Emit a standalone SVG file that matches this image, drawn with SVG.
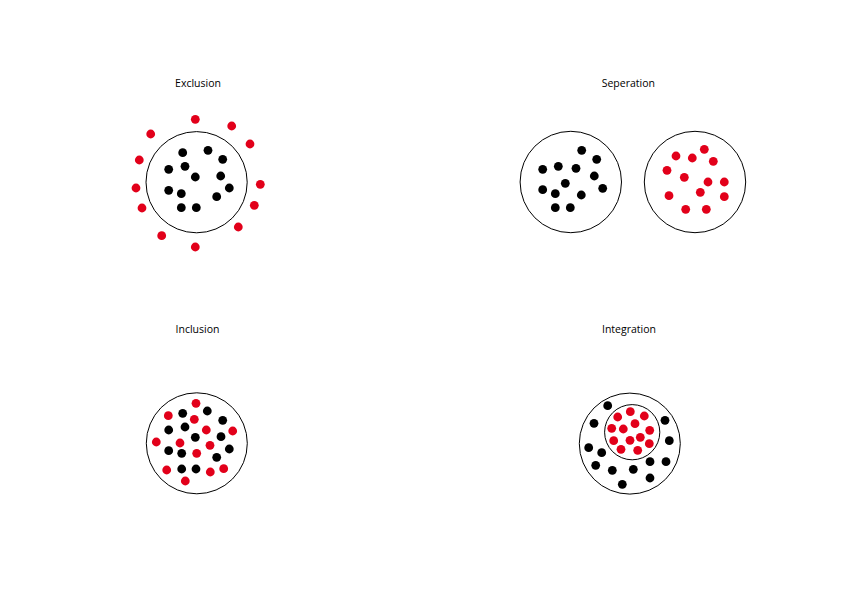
<svg xmlns="http://www.w3.org/2000/svg" width="842" height="596" viewBox="0 0 842 596">
<style>
.t{font-family:"Open Sans","Liberation Sans",sans-serif;font-size:10.5px;fill:#000;text-anchor:middle}
.c{fill:none;stroke:#000;stroke-width:1}
.r{fill:#e2001a}
.b{fill:#000}
</style>
<rect width="842" height="596" fill="#fff"/>
<g id="exclusion">
<text class="t" x="198" y="87">Exclusion</text>
<circle class="c" cx="196.6" cy="182.2" r="50.6"/>
<g class="r">
<circle cx="195.3" cy="119.3" r="4.4"/><circle cx="231.7" cy="126" r="4.4"/><circle cx="150.7" cy="134" r="4.4"/><circle cx="250" cy="144" r="4.4"/><circle cx="139.3" cy="160" r="4.4"/><circle cx="136" cy="188" r="4.4"/><circle cx="260.3" cy="184.3" r="4.4"/><circle cx="142" cy="208" r="4.4"/><circle cx="254.3" cy="205.3" r="4.4"/><circle cx="238.3" cy="227" r="4.4"/><circle cx="161.7" cy="235.7" r="4.4"/><circle cx="195.3" cy="247" r="4.4"/>
</g>
<g class="b">
<circle cx="182.7" cy="152.7" r="4.4"/><circle cx="208" cy="150.3" r="4.4"/><circle cx="222.7" cy="159.3" r="4.4"/><circle cx="168.7" cy="169.3" r="4.4"/><circle cx="185" cy="166.3" r="4.4"/><circle cx="195.3" cy="177" r="4.4"/><circle cx="220.7" cy="176" r="4.4"/><circle cx="229.3" cy="188" r="4.4"/><circle cx="168.7" cy="190.3" r="4.4"/><circle cx="181.3" cy="193.7" r="4.4"/><circle cx="216.7" cy="196.7" r="4.4"/><circle cx="181.3" cy="207.7" r="4.4"/><circle cx="196.3" cy="207.7" r="4.4"/>
</g>
</g>
<g id="separation">
<text class="t" x="628.3" y="87">Seperation</text>
<circle class="c" cx="570.8" cy="182" r="50.7"/>
<circle class="c" cx="695" cy="182" r="50.7"/>
<g class="b">
<circle cx="581.7" cy="150.3" r="4.4"/><circle cx="596.7" cy="159.3" r="4.4"/><circle cx="542.7" cy="169.3" r="4.4"/><circle cx="558.3" cy="166.3" r="4.4"/><circle cx="576" cy="168.3" r="4.4"/><circle cx="594.3" cy="176" r="4.4"/><circle cx="565.3" cy="183.3" r="4.4"/><circle cx="602.7" cy="188.3" r="4.4"/><circle cx="542.7" cy="189.7" r="4.4"/><circle cx="555.3" cy="193.7" r="4.4"/><circle cx="581.3" cy="195" r="4.4"/><circle cx="555.3" cy="207.7" r="4.4"/><circle cx="570.3" cy="207.7" r="4.4"/>
</g>
<g class="r">
<circle cx="704.3" cy="149.3" r="4.4"/><circle cx="676" cy="156" r="4.4"/><circle cx="692.3" cy="158" r="4.4"/><circle cx="713.3" cy="161.3" r="4.4"/><circle cx="667" cy="170.3" r="4.4"/><circle cx="684.3" cy="177.3" r="4.4"/><circle cx="708" cy="182" r="4.4"/><circle cx="724.3" cy="182" r="4.4"/><circle cx="700.3" cy="192.3" r="4.4"/><circle cx="669" cy="195.7" r="4.4"/><circle cx="724.3" cy="196.7" r="4.4"/><circle cx="685.7" cy="209.3" r="4.4"/><circle cx="706.3" cy="209.3" r="4.4"/>
</g>
</g>
<g id="inclusion">
<text class="t" x="197.5" y="333">Inclusion</text>
<circle class="c" cx="196.8" cy="443.3" r="50.5"/>
<g class="r">
<circle cx="196" cy="403.3" r="4.4"/><circle cx="168.3" cy="415.7" r="4.4"/><circle cx="194.3" cy="419.3" r="4.4"/><circle cx="206.3" cy="430" r="4.4"/><circle cx="232.7" cy="431" r="4.4"/><circle cx="156.3" cy="442" r="4.4"/><circle cx="180" cy="443" r="4.4"/><circle cx="210" cy="445.3" r="4.4"/><circle cx="196.7" cy="453.3" r="4.4"/><circle cx="166.7" cy="470" r="4.4"/><circle cx="210.3" cy="472" r="4.4"/><circle cx="223.7" cy="468.7" r="4.4"/><circle cx="185.3" cy="481" r="4.4"/>
</g>
<g class="b">
<circle cx="182.7" cy="413.3" r="4.4"/><circle cx="207.3" cy="411" r="4.4"/><circle cx="222.7" cy="420.3" r="4.4"/><circle cx="185" cy="427" r="4.4"/><circle cx="168.7" cy="430" r="4.4"/><circle cx="221" cy="436.7" r="4.4"/><circle cx="195.3" cy="437.3" r="4.4"/><circle cx="229.3" cy="449" r="4.4"/><circle cx="168.7" cy="450.7" r="4.4"/><circle cx="181.7" cy="453.3" r="4.4"/><circle cx="216.7" cy="457.3" r="4.4"/><circle cx="181.7" cy="469" r="4.4"/><circle cx="196" cy="469" r="4.4"/>
</g>
</g>
<g id="integration">
<text class="t" x="629" y="333">Integration</text>
<circle class="c" cx="629.8" cy="443.6" r="50.5"/>
<circle class="c" cx="632.2" cy="432.2" r="27.6"/>
<g class="b">
<circle cx="607.7" cy="405.7" r="4.4"/><circle cx="594" cy="423.3" r="4.4"/><circle cx="665" cy="420.3" r="4.4"/><circle cx="669.3" cy="440.7" r="4.4"/><circle cx="588.7" cy="447.7" r="4.4"/><circle cx="601.7" cy="452.7" r="4.4"/><circle cx="650" cy="461.7" r="4.4"/><circle cx="666" cy="461.7" r="4.4"/><circle cx="595.7" cy="465.3" r="4.4"/><circle cx="612.3" cy="470.3" r="4.4"/><circle cx="633.3" cy="469.3" r="4.4"/><circle cx="650" cy="478" r="4.4"/><circle cx="622.3" cy="484.3" r="4.4"/>
</g>
<g class="r">
<circle cx="617.7" cy="417" r="4.4"/><circle cx="630.3" cy="411.7" r="4.4"/><circle cx="644.3" cy="416" r="4.4"/><circle cx="611.7" cy="428.3" r="4.4"/><circle cx="623.3" cy="429" r="4.4"/><circle cx="635" cy="423.7" r="4.4"/><circle cx="649.7" cy="430.3" r="4.4"/><circle cx="613.7" cy="440.7" r="4.4"/><circle cx="630" cy="440.3" r="4.4"/><circle cx="640.3" cy="437.3" r="4.4"/><circle cx="649.3" cy="443.7" r="4.4"/><circle cx="621" cy="449.3" r="4.4"/><circle cx="637.7" cy="450.3" r="4.4"/>
</g>
</g>
</svg>
